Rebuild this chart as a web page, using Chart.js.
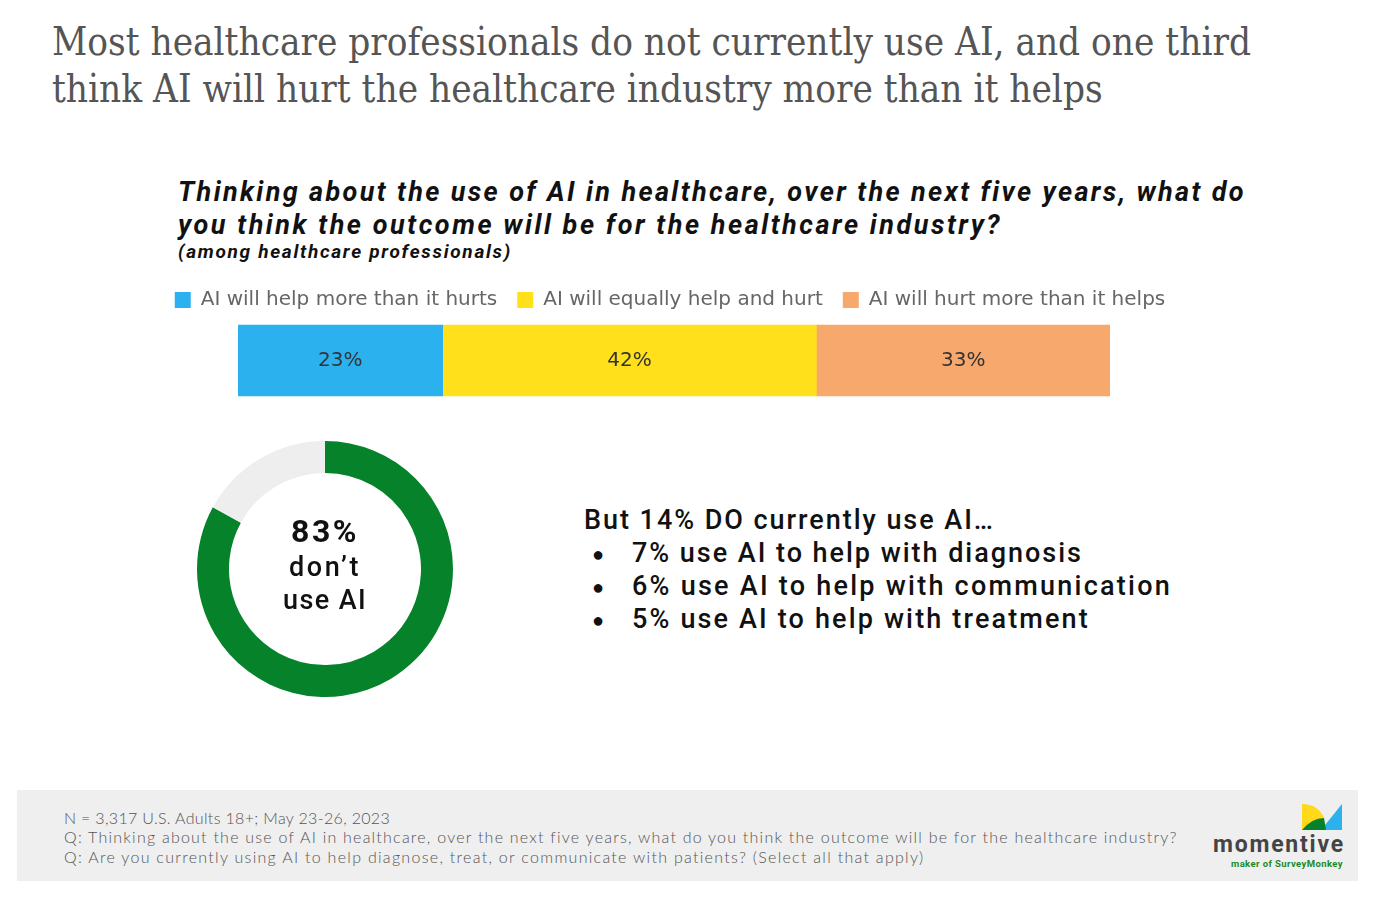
<!DOCTYPE html>
<html>
<head>
<meta charset="utf-8">
<script src="https://cdn.jsdelivr.net/npm/chart.js@4"></script>
<style>
  body { margin: 0; width: 1375px; height: 904px; background: #fff; position: relative; overflow: hidden; font-family: Roboto, sans-serif; }
  .ln { position: absolute; white-space: nowrap; }
  .title { left: 52px; font-family: "DejaVu Serif Condensed", "DejaVu Serif", serif; font-size: 38.3px; line-height: 44px; color: #555; }
  .question { left: 178px; font-weight: 700; font-style: italic; font-size: 27px; line-height: 31px; color: #111; }
  .among { left: 178px; top: 241px; font-weight: 700; font-style: italic; font-size: 19px; line-height: 22px; color: #111; }
  #barWrap { position: absolute; left: 95px; top: 270px; width: 1150px; height: 131px; }
  #donutWrap { position: absolute; left: 197px; top: 441px; width: 256px; height: 256px; }
  .center { color: #111; font-size: 27px; line-height: 32px; font-weight: 500; }
  .center.big { font-size: 32px; line-height: 34px; font-weight: 700; }
  .side { left: 584px; font-size: 27px; line-height: 31px; color: #111; font-weight: 500; }
  .side.item { left: 632px; }
  .bullet { left: 592px; font-size: 20px; line-height: 22px; color: #111; }
  .footer { position: absolute; left: 17px; top: 790px; width: 1341px; height: 91px; background: #efefef; }
  .notes { left: 47px; font-family: Lato, sans-serif; font-weight: 300; font-size: 16px; line-height: 19px; color: #555; }
  .logoname { left: 1196px; top: 42px; font-weight: 700; font-size: 23px; line-height: 26px; color: #444; }
  .logomaker { left: 1214px; top: 68px; font-weight: 700; font-size: 9.5px; line-height: 11px; color: #1a8a2b; }
</style>
</head>
<body>
<div class="ln title" style="top:20px">Most healthcare professionals do not currently use AI, and one third</div>
<div class="ln title" style="top:67px">think AI will hurt the healthcare industry more than it helps</div>
<div class="ln question fit" data-w="1068" style="top:177px">Thinking about the use of AI in healthcare, over the next five years, what do</div>
<div class="ln question fit" data-w="824" style="top:210px">you think the outcome will be for the healthcare industry?</div>
<div class="ln among fit" data-w="334">(among healthcare professionals)</div>

<div id="barWrap"><canvas id="barChart"></canvas></div>
<div id="donutWrap"><canvas id="donutChart"></canvas></div>
<div class="ln center big fit" data-w="68" data-cx="325" style="top:514px">83%</div>
<div class="ln center fit" data-w="72" data-cx="325" style="top:551px">don’t</div>
<div class="ln center fit" data-w="84" data-cx="325" style="top:584px">use AI</div>

<div class="ln side fit" data-w="411" style="top:505px">But 14% DO currently use AI…</div>
<div class="ln bullet" style="top:543px">●</div>
<div class="ln side item fit" data-w="451" style="top:538px">7% use AI to help with diagnosis</div>
<div class="ln bullet" style="top:576px">●</div>
<div class="ln side item fit" data-w="540" style="top:571px">6% use AI to help with communication</div>
<div class="ln bullet" style="top:609px">●</div>
<div class="ln side item fit" data-w="458" style="top:604px">5% use AI to help with treatment</div>

<div class="footer">
  <div class="ln notes fit" data-w="326" style="top:18px">N = 3,317 U.S. Adults 18+; May 23-26, 2023</div>
  <div class="ln notes fit" data-w="1114" style="top:37px">Q: Thinking about the use of AI in healthcare, over the next five years, what do you think the outcome will be for the healthcare industry?</div>
  <div class="ln notes fit" data-w="861" style="top:57px">Q: Are you currently using AI to help diagnose, treat, or communicate with patients? (Select all that apply)</div>
  <svg width="42" height="28" viewBox="0 0 42 28" style="position:absolute; left:1284px; top:13px">
    <path d="M1 1 Q17 1 23 15 L23 27 L1 27 Z" fill="#ffd91a"/>
    <path d="M41 1 L41 27 L20 27 Z" fill="#2cb0ee"/>
    <path d="M1 27 Q11 15 23 15 L25 27 Z" fill="#05822a"/>
  </svg>
  <div class="ln logoname fit" data-w="132">momentive</div>
  <div class="ln logomaker fit" data-w="112">maker of SurveyMonkey</div>
</div>

<script>
const outcomeLabels = ["AI will help more than it hurts", "AI will equally help and hurt", "AI will hurt more than it helps"];
const outcomeValues = [23, 42, 33];
const outcomeColors = ["#2cb1ef", "#ffe01b", "#f7a86c"];

const usageLabels = ["Don't use AI", "Use AI"];
const usageValues = [83, 17];
const usageColors = ["#05822a", "#eeeeee"];

// stretch text lines to the widths they have in the original slide
document.querySelectorAll(".fit").forEach((el) => {
  const target = parseFloat(el.dataset.w);
  const w = el.getBoundingClientRect().width;
  const n = el.textContent.length;
  el.style.letterSpacing = ((target - w) / n).toFixed(2) + "px";
  if (el.dataset.cx) {
    const w2 = el.getBoundingClientRect().width;
    el.style.left = (parseFloat(el.dataset.cx) - w2 / 2) + "px";
  }
});

// writes the % inside each bar segment
const segmentLabels = {
  id: "segmentLabels",
  afterDatasetsDraw(chart) {
    const ctx = chart.ctx;
    ctx.save();
    ctx.font = "20px 'DejaVu Sans'";
    ctx.fillStyle = "#333";
    ctx.textAlign = "center";
    ctx.textBaseline = "middle";
    chart.data.datasets.forEach((ds, i) => {
      const bar = chart.getDatasetMeta(i).data[0];
      const p = bar.getCenterPoint();
      ctx.fillText(ds.data[0] + "%", p.x, p.y);
    });
    ctx.restore();
  },
};

const barDatasets = outcomeLabels.map((label, i) => ({
  label: label,
  data: [outcomeValues[i]],
  backgroundColor: outcomeColors[i],
  barThickness: 71,
}));

new Chart(document.getElementById("barChart"), {
  type: "bar",
  data: { labels: [""], datasets: barDatasets },
  plugins: [segmentLabels],
  options: {
    indexAxis: "y",
    responsive: true,
    maintainAspectRatio: false,
    animation: false,
    layout: { padding: 0 },
    scales: {
      x: { stacked: true, display: false, min: 0, max: 98 },
      y: {
        stacked: true,
        ticks: { display: false },
        grid: { display: false },
        border: { display: false },
        afterFit: (scale) => { scale.width = 143; },
      },
      y2: {
        position: "right",
        ticks: { display: false },
        grid: { display: false },
        border: { display: false },
        afterFit: (scale) => { scale.width = 135; },
      },
    },
    plugins: {
      tooltip: { enabled: false },
      legend: {
        position: "top",
        labels: {
          boxWidth: 16,
          boxHeight: 16,
          padding: 20,
          color: "#666",
          font: { family: "DejaVu Sans", size: 20 },
        },
      },
    },
  },
});

new Chart(document.getElementById("donutChart"), {
  type: "doughnut",
  data: {
    labels: usageLabels,
    datasets: [{ data: usageValues, backgroundColor: usageColors, borderWidth: 0 }],
  },
  options: {
    responsive: true,
    maintainAspectRatio: false,
    animation: false,
    cutout: "75%",
    plugins: { legend: { display: false }, tooltip: { enabled: false } },
  },
});
</script>
</body>
</html>
